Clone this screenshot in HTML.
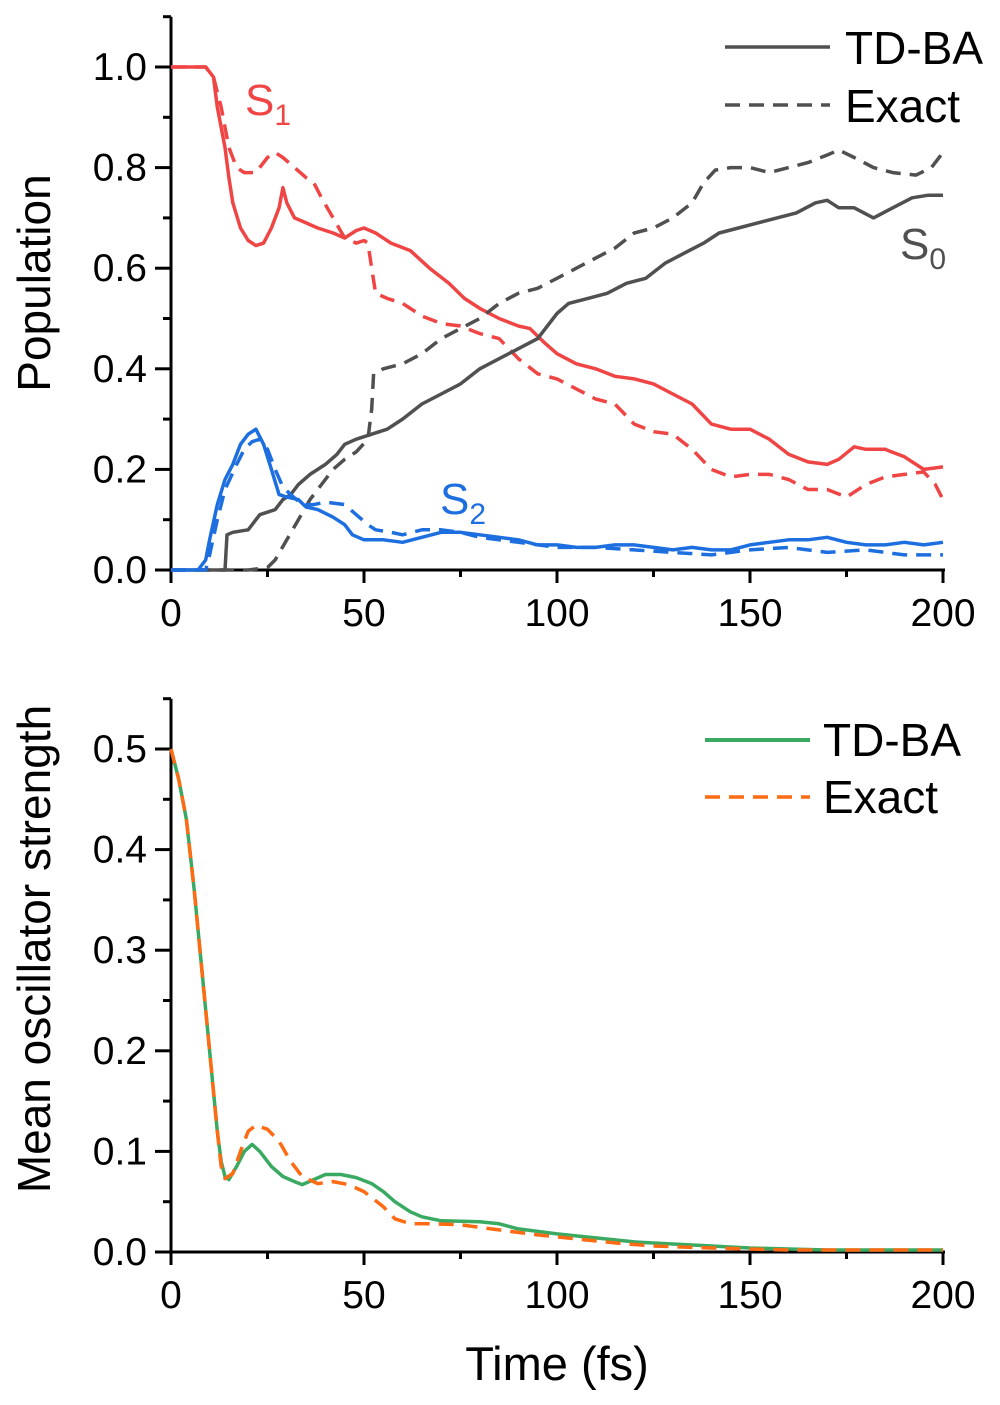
<!DOCTYPE html>
<html><head><meta charset="utf-8"><style>
body{margin:0;background:#fff}
svg{display:block;font-family:"Liberation Sans",Arial,sans-serif}
</style></head><body>
<svg id="s" width="1000" height="1405" xmlns="http://www.w3.org/2000/svg"></svg>
<script>
const s=document.getElementById('s');let h='';
const X=t=>171+t*3.86;
function panel(y0,pxPer,ymax,maj,min){
  const Y=v=>y0-v*pxPer;
  h+=`<line x1="${X(0)}" y1="${Y(ymax)}" x2="${X(0)}" y2="${y0+1.5}" stroke="#000" stroke-width="3"/>`;
  h+=`<line x1="155" y1="${y0}" x2="${X(200)+2}" y2="${y0}" stroke="#000" stroke-width="3"/>`;
  for(let v=0;v<=ymax+1e-9;v+=min){const isM=Math.abs(v/maj-Math.round(v/maj))<1e-6;
    h+=`<line x1="${isM?155:163}" y1="${Y(v)}" x2="171" y2="${Y(v)}" stroke="#000" stroke-width="3"/>`;
    if(isM)h+=`<text x="147" y="${Y(v)+13}" font-size="39" text-anchor="end">${v.toFixed(1)}</text>`;}
  for(let t=0;t<=200;t+=25){const isM=t%50==0;
    h+=`<line x1="${X(t)}" y1="${y0}" x2="${X(t)}" y2="${y0+(isM?13:7)}" stroke="#000" stroke-width="3"/>`;
    if(isM)h+=`<text x="${X(t)}" y="${y0+56}" font-size="39" text-anchor="middle">${t}</text>`;}
  return Y;
}
function line(Y,d,c,dash){let p=d.map(q=>X(q[0]).toFixed(1)+','+Y(q[1]).toFixed(1)).join(' ');
  h+=`<polyline points="${p}" fill="none" stroke="${c}" stroke-width="3.5" stroke-linejoin="round" ${dash?'stroke-dasharray="15,9"':''}/>`;}
const Y1=panel(570,503,1.1,0.2,0.1);
const R='#f04545',G='#505050',B='#1d6fe0';
line(Y1,[[0,1],[9,1],[11,0.98],[12,0.92],[13,0.88],[14,0.84],[15,0.78],[16,0.73],[18,0.68],[20,0.655],[22,0.645],[24,0.65],[26,0.68],[28,0.72],[29,0.76],[30,0.73],[32,0.7],[35,0.69],[38,0.68],[42,0.67],[45,0.66],[48,0.675],[50,0.68],[53,0.67],[57,0.65],[62,0.635],[67,0.6],[72,0.57],[76,0.54],[80,0.52],[85,0.5],[90,0.485],[93,0.48],[97,0.45],[100,0.43],[105,0.41],[110,0.4],[115,0.385],[120,0.38],[125,0.37],[130,0.35],[135,0.33],[140,0.29],[145,0.28],[150,0.28],[155,0.26],[160,0.23],[165,0.215],[170,0.21],[173,0.22],[177,0.245],[180,0.24],[185,0.24],[190,0.225],[195,0.2],[200,0.205]],R);
line(Y1,[[0,1],[9,1],[11,0.98],[13,0.92],[14,0.88],[15,0.84],[17,0.8],[19,0.79],[22,0.79],[25,0.82],[27,0.83],[29,0.82],[32,0.8],[35,0.78],[37,0.77],[39,0.74],[42,0.7],[45,0.66],[48,0.65],[50,0.655],[51,0.65],[52,0.6],[53,0.55],[56,0.54],[60,0.53],[65,0.505],[70,0.49],[75,0.485],[80,0.47],[85,0.46],[90,0.42],[95,0.39],[100,0.38],[105,0.36],[110,0.34],[115,0.33],[120,0.29],[125,0.275],[130,0.27],[135,0.24],[140,0.2],[145,0.185],[150,0.19],[155,0.19],[160,0.18],[165,0.16],[170,0.16],[175,0.145],[180,0.17],[185,0.185],[190,0.19],[195,0.195],[198,0.17],[200,0.14]],R,1);
line(Y1,[[0,0],[14,0],[14.5,0.07],[16,0.075],[20,0.08],[22,0.1],[23,0.11],[27,0.12],[29,0.14],[31,0.15],[33,0.17],[36,0.19],[40,0.21],[43,0.23],[45,0.25],[48,0.26],[52,0.27],[56,0.28],[60,0.3],[65,0.33],[70,0.35],[75,0.37],[80,0.4],[85,0.42],[90,0.44],[95,0.46],[97,0.48],[100,0.51],[103,0.53],[108,0.54],[113,0.55],[118,0.57],[123,0.58],[128,0.61],[133,0.63],[138,0.65],[142,0.67],[147,0.68],[152,0.69],[157,0.7],[162,0.71],[167,0.73],[170,0.735],[173,0.72],[177,0.72],[182,0.7],[187,0.72],[192,0.74],[196,0.745],[200,0.745]],G);
line(Y1,[[0,0],[20,0],[25,0.005],[27,0.02],[30,0.06],[33,0.1],[36,0.14],[39,0.17],[42,0.2],[45,0.22],[48,0.235],[51,0.26],[52,0.32],[52.5,0.39],[55,0.4],[60,0.41],[65,0.43],[70,0.46],[75,0.48],[80,0.5],[85,0.53],[90,0.55],[95,0.56],[100,0.58],[105,0.6],[110,0.62],[115,0.64],[120,0.67],[125,0.68],[130,0.7],[135,0.73],[138,0.77],[141,0.795],[145,0.8],[150,0.8],[155,0.79],[160,0.8],[165,0.81],[170,0.825],[173,0.835],[177,0.82],[182,0.8],[187,0.79],[193,0.785],[197,0.8],[200,0.83]],G,1);
line(Y1,[[0,0],[7,0],[9,0.02],[10,0.06],[12,0.13],[14,0.18],[16,0.21],[18,0.25],[20,0.27],[22,0.28],[24,0.25],[26,0.2],[28,0.15],[30,0.145],[33,0.14],[35,0.125],[38,0.12],[42,0.105],[45,0.09],[47,0.07],[50,0.06],[55,0.06],[60,0.055],[65,0.065],[70,0.075],[75,0.075],[80,0.07],[85,0.065],[90,0.06],[95,0.05],[100,0.05],[105,0.045],[110,0.045],[115,0.05],[120,0.05],[125,0.045],[130,0.04],[135,0.045],[140,0.04],[145,0.04],[150,0.05],[155,0.055],[160,0.06],[165,0.06],[170,0.065],[175,0.055],[180,0.05],[185,0.05],[190,0.055],[195,0.05],[200,0.055]],B);
line(Y1,[[0,0],[9,0],[10,0.03],[12,0.1],[14,0.16],[17,0.21],[19,0.24],[21,0.255],[23,0.26],[25,0.24],[27,0.2],[29,0.165],[31,0.15],[34,0.13],[37,0.13],[40,0.135],[45,0.13],[48,0.11],[51,0.09],[53,0.08],[57,0.075],[60,0.07],[65,0.08],[70,0.08],[75,0.075],[80,0.065],[90,0.055],[100,0.045],[110,0.045],[120,0.04],[130,0.035],[140,0.03],[150,0.04],[160,0.045],[170,0.035],[180,0.04],[190,0.03],[200,0.03]],B,1);
h+=`<text x="245" y="115" font-size="44" fill="${R}">S<tspan font-size="30" dy="10">1</tspan></text>`;
h+=`<text x="900" y="259" font-size="44" fill="${G}">S<tspan font-size="30" dy="10">0</tspan></text>`;
h+=`<text x="440" y="514" font-size="44" fill="${B}">S<tspan font-size="30" dy="10">2</tspan></text>`;
h+=`<line x1="725" y1="47" x2="830" y2="47" stroke="${G}" stroke-width="3.5"/><text x="845" y="64" font-size="46">TD-BA</text>`;
h+=`<line x1="725" y1="105" x2="830" y2="105" stroke="${G}" stroke-width="3.5" stroke-dasharray="15,9"/><text x="845" y="122" font-size="46">Exact</text>`;
h+=`<text transform="translate(50,283) rotate(-90)" font-size="46" text-anchor="middle">Population</text>`;
const Y2=panel(1252,1006,0.55,0.1,0.05);
line(Y2,[[0,0.5],[2,0.47],[4,0.43],[6,0.36],[8,0.28],[10,0.2],[12,0.12],[13,0.09],[14,0.075],[15,0.072],[17,0.085],[19,0.1],[21,0.107],[23,0.1],[26,0.085],[29,0.075],[32,0.07],[34,0.067],[37,0.072],[40,0.077],[44,0.077],[48,0.074],[52,0.068],[55,0.06],[58,0.05],[62,0.04],[65,0.035],[70,0.031],[80,0.03],[85,0.028],[90,0.023],[100,0.018],[110,0.014],[120,0.01],[130,0.008],[140,0.006],[150,0.004],[160,0.003],[170,0.002],[200,0.002]],'#3aaa62');
line(Y2,[[0,0.5],[2,0.47],[4,0.43],[6,0.36],[8,0.28],[10,0.2],[12,0.12],[13,0.085],[14,0.073],[16,0.078],[18,0.1],[20,0.12],[22,0.126],[25,0.122],[28,0.11],[31,0.09],[34,0.075],[38,0.068],[42,0.07],[46,0.067],[50,0.06],[55,0.045],[58,0.033],[62,0.028],[68,0.028],[75,0.027],[85,0.022],[95,0.017],[105,0.013],[115,0.009],[125,0.006],[140,0.004],[160,0.002],[200,0.002]],'#ff6a12',1);
h+=`<line x1="705" y1="740" x2="810" y2="740" stroke="#3aaa62" stroke-width="4"/><text x="823" y="756" font-size="46">TD-BA</text>`;
h+=`<line x1="705" y1="797" x2="810" y2="797" stroke="#ff6a12" stroke-width="3.5" stroke-dasharray="15,9"/><text x="823" y="813" font-size="46">Exact</text>`;
h+=`<text transform="translate(50,949) rotate(-90)" font-size="46" text-anchor="middle">Mean oscillator strength</text>`;
h+=`<text x="557" y="1380" font-size="47" text-anchor="middle">Time (fs)</text>`;
s.innerHTML=h;
</script>
</body></html>
